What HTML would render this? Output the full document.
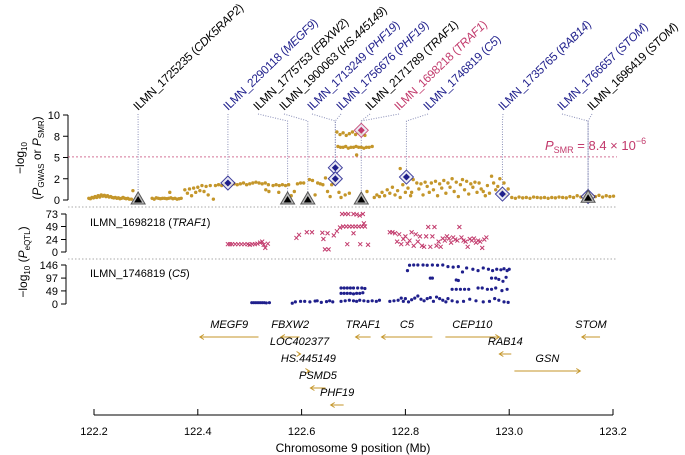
<!DOCTYPE html>
<html><head><meta charset="utf-8">
<style>
html,body{margin:0;padding:0;background:#fff;}
svg{display:block;font-family:"Liberation Sans",Arial,sans-serif;}
</style></head>
<body>
<svg id="chart" width="685" height="455" viewBox="0 0 685 455" xmlns="http://www.w3.org/2000/svg">
<g id="axes"></g>
<g id="marks"></g>
</svg>
<script>
// ---------- data ----------
const gwasPos = [122.190,122.193,122.196,122.199,122.202,122.205,122.208,122.211,122.214,122.217,122.220,122.223,122.226,122.229,122.232,122.235,122.238,122.241,122.244,122.247,122.250,122.253,122.256,122.259,122.262,122.265,122.268,122.272,122.275,
122.312,122.316,122.320,122.324,122.328,122.332,122.336,122.340,122.344,122.348,122.352,122.356,122.360,122.364,122.368,122.346,
122.375,122.380,122.384,122.388,122.392,122.396,122.400,122.404,122.408,122.412,122.416,122.420,122.424,122.430,122.434,122.440,122.446,122.452,122.458,
122.464,122.470,122.476,122.482,122.488,122.494,122.500,122.506,122.512,122.518,122.524,122.530,122.536,122.531,122.537,
122.545,122.551,122.557,122.563,122.569,122.575,122.556,122.580,122.586,122.592,122.598,122.604,122.610,122.615,122.621,122.626,122.631,122.636,122.641,122.646,122.650,122.655,122.658,122.662,
122.668,122.674,122.680,122.686,122.692,122.698,122.704,122.710,122.716,122.722,
122.670,122.675,122.680,122.685,122.690,122.695,122.700,122.705,122.710,122.715,122.720,122.725,122.730,122.736,
122.672,122.676,122.684,122.692,122.706,122.726,
122.740,122.745,122.750,122.755,122.760,122.765,122.770,122.775,122.780,122.785,122.790,122.795,122.800,122.805,122.810,122.815,122.790,122.812,
122.822,122.826,122.830,122.834,122.838,122.842,122.846,122.850,122.854,122.858,122.862,122.866,122.870,122.874,122.878,122.882,122.886,122.890,122.894,122.898,122.902,122.906,122.910,122.914,122.918,122.922,122.926,122.930,122.934,122.938,122.942,122.946,122.950,122.954,122.958,122.962,122.966,122.970,122.974,122.978,122.982,122.986,122.990,122.994,122.998,
123.005,123.012,123.019,123.026,123.033,123.040,123.047,123.054,123.061,123.068,123.075,123.082,123.089,123.096,123.103,123.110,123.117,123.124,123.131,123.138,123.145,123.152,123.159,123.166,123.173,123.180,123.187,123.194,123.201];
const gwasLogP = [.2,.15,.3,.25,.4,.3,.5,.35,.6,.45,.55,.4,.5,.35,.4,.3,.25,.3,.2,.25,.15,.2,.3,.2,.15,.2,.1,.1,1.1,
.2,.1,.25,.2,.15,.2,.2,.15,.2,.25,.15,.2,.1,.15,.2,.9,
1.2,.8,1.3,.5,1.4,.9,1.5,1.1,1.7,1.0,1.6,.6,1.7,.1,1.7,1.8,1.7,1.9,1.8,
1.8,1.9,1.8,1.9,2.0,1.8,1.9,2.0,2.1,2.0,1.9,2.0,1.8,1.2,1.0,
1.7,1.8,1.7,1.8,1.7,1.8,.9,.5,1.0,1.9,2.0,2.0,.3,2.4,2.3,.6,2.0,1.9,1.8,2.6,1.0,.4,1.8,2.0,
8.0,7.7,7.9,7.6,7.8,8.0,7.7,7.9,7.8,7.6,
6.3,6.2,6.2,6.3,6.1,6.2,6.2,6.3,6.2,6.2,6.1,6.2,6.2,6.3,
.9,.3,.6,.8,5.3,1.0,
.3,.6,.4,.9,.5,1.2,.8,1.5,.6,1.1,.3,1.8,.9,1.4,.5,2.4,3.7,.9,
2.0,1.3,1.9,.6,2.1,1.6,.9,2.0,1.2,2.2,.5,1.9,1.4,2.3,.8,2.0,1.5,2.5,1.0,2.1,.4,1.8,2.4,1.2,2.2,.7,1.9,1.5,2.1,.9,2.0,1.3,1.0,.5,1.7,.8,2.8,2.0,1.2,1.6,2.5,1.0,2.0,.6,1.3,
.3,.2,.35,.25,.3,.2,.35,.3,.25,.3,.2,.3,.25,.35,.3,.25,.4,.3,.5,.35,.45,.3,.5,.4,.55,.35,.5,.4,.45];

const probeIds = ["ILMN_1725235","ILMN_2290118","ILMN_1775753","ILMN_1900063","ILMN_1713249","ILMN_1756676","ILMN_2171789","ILMN_1698218","ILMN_1746819","ILMN_1735765","ILMN_1766657","ILMN_1696419"];
const probeGenes = ["CDK5RAP2","MEGF9","FBXW2","HS.445149","PHF19","PHF19","TRAF1","TRAF1","C5","RAB14","STOM","STOM"];
const probePos = [122.285,122.458,122.573,122.612,122.665,122.665,122.715,122.715,122.802,122.987,123.152,123.152];
const probeLogP = [0,2.0,0,0,3.8,2.5,0,8.2,2.7,0.7,0.4,0.2];
const probeKind = ["tri","dia","tri","tri","dia","dia","tri","red","dia","dia","dia","tri"];

const traf1Pos = [122.458,122.462,122.466,122.472,122.478,122.484,122.490,122.496,122.500,122.505,122.510,122.515,122.520,122.524,122.527,122.530,122.535,
122.590,122.595,122.610,122.620,122.640,122.642,122.645,122.650,122.652,122.662,122.668,
122.678,122.684,122.690,122.700,122.706,122.712,122.718,
122.674,122.680,122.686,122.692,122.698,122.704,122.710,122.716,122.722,122.720,122.688,122.700,122.713,122.728,
122.770,122.775,122.780,122.784,122.788,122.792,122.796,122.800,122.804,122.808,122.812,122.816,122.820,122.824,122.828,122.832,122.836,122.840,122.844,122.848,122.852,122.856,122.860,122.864,122.868,122.872,122.876,122.880,122.884,122.888,122.892,122.896,122.900,122.904,122.908,122.912,122.916,122.920,122.924,122.928,122.932,122.936,122.940,122.944,122.948,122.952,122.956];
const traf1LogP = [15,15,15,15,15,15,15,15,14,15,15,16,18,20,14,8,16,
27,33,38,38,37,25,5,36,5,32,40,
73,73,73,73,72,70,73,
47,49,49,49,49,49,49,49,49,55,15,36,15,14,
38,38,36,20,34,15,25,30,16,22,38,12,34,20,30,12,10,30,48,10,30,48,12,20,10,26,22,30,26,18,28,24,22,48,28,22,20,10,25,22,26,18,22,20,8,24,28,12];

const c5Pos = [122.504,122.508,122.512,122.516,122.520,122.524,122.528,122.532,122.538,
122.582,122.588,122.598,122.606,122.616,122.626,122.630,122.638,122.648,122.654,122.660,
122.676,122.682,122.688,122.694,122.700,122.708,122.716,122.722,
122.676,122.682,122.688,122.694,122.700,122.706,122.712,122.718,
122.676,122.684,122.692,122.700,122.706,122.712,122.720,122.728,122.736,122.744,122.750,
122.770,122.778,122.786,122.792,122.796,122.800,122.806,122.812,122.818,122.824,122.830,122.836,122.842,122.848,122.854,122.860,122.866,122.872,122.878,
122.808,122.816,122.824,122.834,122.842,122.852,122.862,122.872,122.882,122.892,122.902,122.910,122.918,122.930,122.940,122.950,122.960,122.968,122.976,122.984,122.990,122.996,123.000,
122.804,122.848,122.852,122.898,122.902,122.966,122.974,122.980,122.988,122.994,
122.890,122.898,122.906,122.914,122.922,122.940,122.948,122.958,122.966,122.974,122.986,122.996,
122.882,122.890,122.900,122.912,122.924,122.936,122.950,122.962,122.972,122.980,122.990,122.998];
const c5LogP = [5,5,5,5,5,5,5,4,5,
3,8,10,10,8,11,12,6,9,12,8,
60,60,60,60,60,60,60,58,
40,40,40,40,38,40,40,42,
10,12,14,12,10,14,12,10,12,10,14,
10,12,14,22,10,20,8,16,22,30,18,12,20,24,10,26,20,14,8,
145,146,146,146,145,146,145,146,140,138,140,120,135,130,125,135,130,125,130,128,132,125,130,
125,97,97,90,88,97,97,92,85,100,
55,55,55,55,55,60,60,55,55,60,50,55,
20,12,8,10,18,12,8,10,20,14,8,6];

const tickVals = [122.2,122.4,122.6,122.8,123.0,123.2];
const topTicks = [0,2.5,5,7.5,10];
const topTickLabels = ["0","2","5","8","10"];
const midTicks = [0,24,49,73];
const botTicks = [0,49,97,146];

const geneNames = ["MEGF9","FBXW2","TRAF1","C5","CEP110","STOM","LOC402377","RAB14","HS.445149","GSN","PSMD5","PHF19"];
const geneStart = [122.404,122.560,122.704,122.754,122.877,123.140,122.594,122.981,122.611,123.010,122.617,122.656];
const geneEnd   = [122.517,122.596,122.733,122.852,122.981,123.175,122.598,123.004,122.615,123.137,122.646,122.681];
const geneStrand = ["-","-","-","-","+","-","+","-","+","+","-","-"];
const geneRow = [0,0,0,0,0,0,1,1,2,2,3,4];

// ---------- layout ----------
const NS="http://www.w3.org/2000/svg";
const GOLD="#c4962a", RED="#c23a6c", BLUE="#1f1f8c", CONN="#8a8fb8";
const X0=94, X1=613, M0=122.2, M1=123.2;
const xs = m => X0 + (m-M0)/(M1-M0)*(X1-X0);
const yTop = v => 200 - v*8.5;
const yMid = v => 252 - v*38/73;
const yBot = v => 304 - v*39/146;
const axes=document.getElementById('axes'), marks=document.getElementById('marks');
function mk(tag, attrs, parent, text){
  const e=document.createElementNS(NS,tag);
  for(const k in attrs) e.setAttribute(k,attrs[k]);
  if(text!==undefined) e.textContent=text;
  (parent||marks).appendChild(e); return e;
}

function yAxis(x, y0, y1, vals, labels, fn, name){
  const g=mk('g',{},axes);
  
  
  mk('line',{x1:x,x2:x,y1:y0,y2:y1,stroke:'#000','stroke-width':1},g);
  vals.forEach((v,i)=>{
    const y=fn(v);
    mk('line',{x1:x-5,x2:x,y1:y,y2:y,stroke:'#000'},g);
    const t=mk('text',{x:x-8,y:y+4,'text-anchor':'end','font-size':11},g,labels[i]);
    
    
  });
}
yAxis(68, yTop(10), yTop(0), topTicks, topTickLabels, yTop, 'gwas-y-axis');
yAxis(66, yMid(73), yMid(0), midTicks, midTicks.map(String), yMid, 'traf1-eqtl-y-axis');
yAxis(66, yBot(146), yBot(0), botTicks, botTicks.map(String), yBot, 'c5-eqtl-y-axis');

[207,259].forEach(y=>{
  const l=mk('line',{x1:68,x2:617,y1:y,y2:y,stroke:'#aaa','stroke-dasharray':'1.5,2','stroke-width':1},axes);
  
  
});
const thr=mk('line',{x1:68,x2:617,y1:yTop(5.07),y2:yTop(5.07),stroke:RED,'stroke-dasharray':'2,2','stroke-width':1,opacity:.7},axes);


const thrT=mk('text',{x:545,y:150,fill:RED,'font-size':13},axes);


thrT.innerHTML='<tspan font-style="italic">P</tspan><tspan font-size="9" dy="3">SMR</tspan><tspan dy="-3"> = 8.4 × 10</tspan><tspan font-size="9" dy="-6">−6</tspan>';

const yt1=mk('text',{transform:'translate(24,158) rotate(-90)','text-anchor':'middle','font-size':12},axes);


yt1.innerHTML='<tspan x="0" y="0">−log</tspan><tspan font-size="8" dy="3">10</tspan><tspan x="0" y="17">(</tspan><tspan font-style="italic">P</tspan><tspan font-size="8" dy="3">GWAS</tspan><tspan dy="-3"> or </tspan><tspan font-style="italic">P</tspan><tspan font-size="8" dy="3">SMR</tspan><tspan dy="-3">)</tspan>';
const yt2=mk('text',{transform:'translate(27,262) rotate(-90)','text-anchor':'middle','font-size':12},axes);


yt2.innerHTML='−log<tspan font-size="8" dy="3">10</tspan><tspan dy="-3"> (</tspan><tspan font-style="italic">P</tspan><tspan font-size="8" dy="3">eQTL</tspan><tspan dy="-3">)</tspan>';

const pl1=mk('text',{x:90,y:226,'font-size':11},axes);


pl1.innerHTML='ILMN_1698218 (<tspan font-style="italic">TRAF1</tspan>)';
const pl2=mk('text',{x:90,y:277,'font-size':11},axes);


pl2.innerHTML='ILMN_1746819 (<tspan font-style="italic">C5</tspan>)';

const xa=mk('g',{},axes);


mk('line',{x1:xs(M0),x2:xs(M1),y1:415,y2:415,stroke:'#000'},xa);
tickVals.forEach(v=>{
  mk('line',{x1:xs(v),x2:xs(v),y1:409,y2:415,stroke:'#000'},xa);
  const t=mk('text',{x:xs(v),y:435,'text-anchor':'middle','font-size':11},xa,v.toFixed(1));
  
  
});
const xt=mk('text',{x:353,y:452,'text-anchor':'middle','font-size':12},xa,'Chromosome 9 position (Mb)');



const labelX=[137,227,257,283,311,340,369,398,427,502,561,591];
probeIds.forEach((id,i)=>{
  const col = probeKind[i]==='dia'?BLUE:(probeKind[i]==='red'?RED:'#000');
  const px=xs(probePos[i]), py=yTop(probeLogP[i]);
  const lx=labelX[i], ly=111;
  const c=mk('polyline',{points:`${lx+1},${ly+3} ${px},${ly+10} ${px},${py}`,fill:'none',stroke:CONN,'stroke-dasharray':'1,1.5','stroke-width':1});
  
  
  const t=mk('text',{transform:`translate(${lx+1},${ly}) rotate(-44)`,'font-size':11.8,'letter-spacing':'-0.3',fill:col});
  
  
  t.innerHTML=id+' (<tspan font-style="italic">'+probeGenes[i]+'</tspan>)';
});

gwasPos.forEach((p,i)=>{
  const c=mk('circle',{cx:xs(p),cy:yTop(gwasLogP[i]),r:1.7,fill:GOLD});
  
  
});

probeIds.forEach((id,i)=>{
  const px=xs(probePos[i]), py=yTop(probeLogP[i]);
  if(probeKind[i]==='tri'){
    const g=mk('g',{});
    
    
    mk('polygon',{points:`${px},${py-8} ${px-7},${py+4} ${px+7},${py+4}`,fill:'#bbb',stroke:'#555','stroke-width':1},g);
    mk('polygon',{points:`${px},${py-4} ${px-4},${py+2.5} ${px+4},${py+2.5}`,fill:'#000'},g);
  } else {
    const col = probeKind[i]==='red'?RED:BLUE;
    const g=mk('g',{});
    
    
    mk('polygon',{points:`${px},${py-7} ${px+7},${py} ${px},${py+7} ${px-7},${py}`,fill:'#e8e8f4',stroke:col,'stroke-width':1,opacity:.85},g);
    mk('polygon',{points:`${px},${py-3.5} ${px+3.5},${py} ${px},${py+3.5} ${px-3.5},${py}`,fill:col},g);
  }
});

traf1Pos.forEach((p,i)=>{
  const x=xs(p), y=yMid(traf1LogP[i]);
  const c=mk('path',{d:`M${x-2},${y-2}L${x+2},${y+2}M${x-2},${y+2}L${x+2},${y-2}`,stroke:RED,'stroke-width':1});
  
  
});
c5Pos.forEach((p,i)=>{
  const c=mk('circle',{cx:xs(p),cy:yBot(c5LogP[i]),r:1.6,fill:BLUE});
  
  
});

const rowText=[328,345,362,379,396], rowArrow=[337,354,371,388,405];
geneNames.forEach((n,i)=>{
  const x1=xs(geneStart[i]), x2=xs(geneEnd[i]), r=geneRow[i], y=rowArrow[r];
  const g=mk('g',{});
  
  
  mk('line',{x1:x1,x2:x2,y1:y,y2:y,stroke:GOLD,'stroke-width':1},g);
  const hx = geneStrand[i]==='+'?x2:x1, d=geneStrand[i]==='+'?-4:4;
  mk('polyline',{points:`${hx+d},${y-2.5} ${hx},${y} ${hx+d},${y+2.5}`,fill:'none',stroke:GOLD,'stroke-width':1},g);
  mk('text',{x:(x1+x2)/2,y:rowText[r],'text-anchor':'middle','font-size':11,'font-style':'italic'},g,n);
});
</script>
</body></html>
